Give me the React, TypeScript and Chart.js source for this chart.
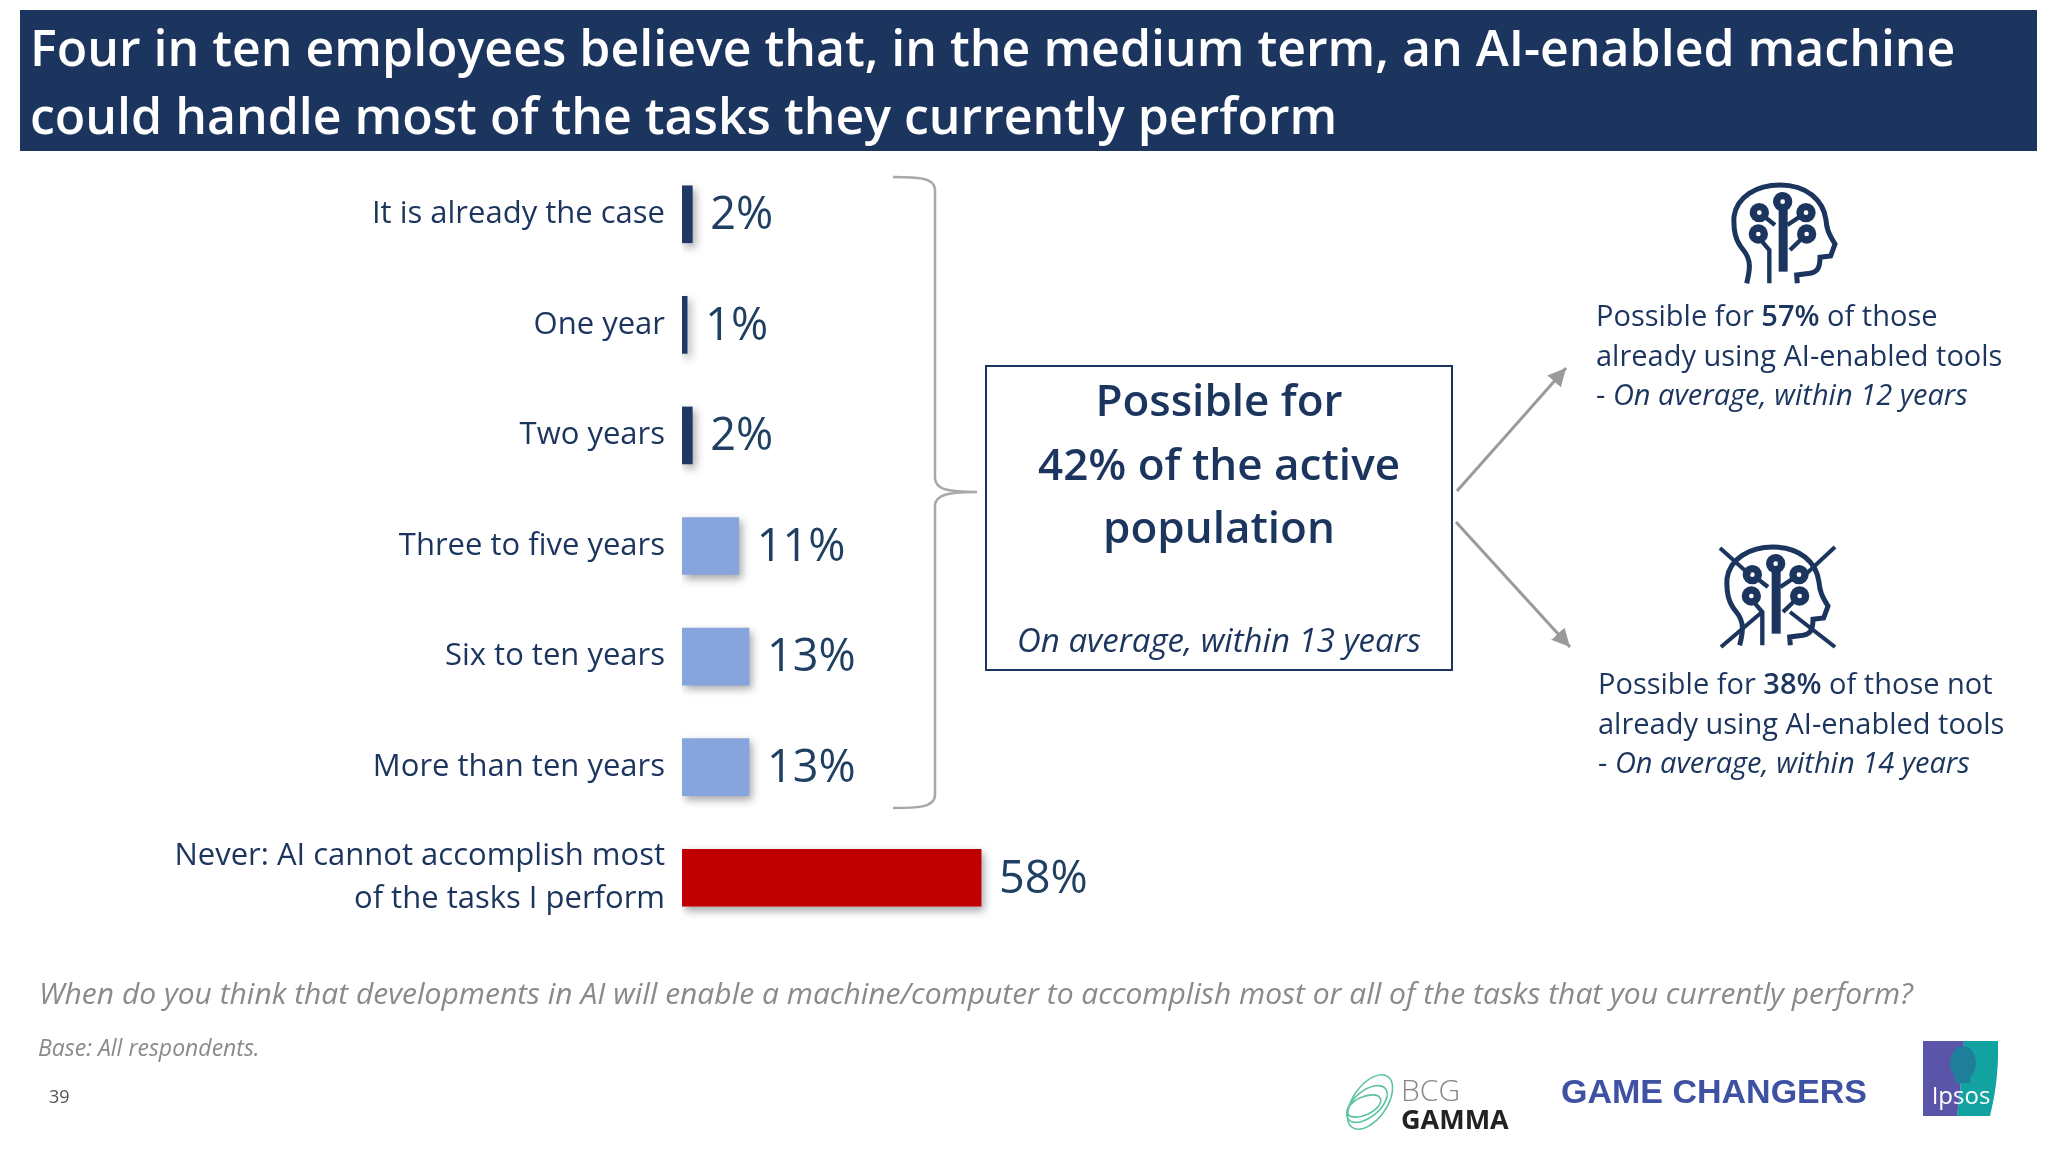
import { useEffect, useRef } from 'react';
import { Chart, registerables } from 'chart.js';

Chart.register(...registerables);

const categories = [
    'It is already the case',
    'One year',
    'Two years',
    'Three to five years',
    'Six to ten years',
    'More than ten years',
    ['Never: AI cannot accomplish most', 'of the tasks I perform'],
];
const shares = [2, 1, 2, 11, 13, 13, 58];
const barColors = ['#1f3864', '#1f3864', '#1f3864', '#86a5dd', '#86a5dd', '#86a5dd', '#c00000'];

const titleLines = [
    'Four in ten employees believe that, in the medium term, an AI-enabled machine',
    'could handle most of the tasks they currently perform',
];
const boxLines = ['Possible for', '42% of the active', 'population'];

const NAVY = '#1c355e';
const FONT = '"Open Sans", sans-serif';

const valueLabels = {
    id: 'valueLabels',
    afterDatasetsDraw(chart: Chart) {
        const { ctx } = chart;
        ctx.save();
        ctx.font = `45px ${FONT}`;
        ctx.fillStyle = '#1f3f63';
        ctx.textBaseline = 'middle';
        chart.getDatasetMeta(0).data.forEach((bar, i) => {
            ctx.fillText(`${shares[i]}%`, bar.x + 18, bar.y + 2);
        });
        ctx.restore();
    },
};

// soft drop shadow behind the bars
const barShadow = {
    id: 'barShadow',
    beforeDatasetsDraw(chart: Chart) {
        const { ctx } = chart;
        ctx.save();
        ctx.shadowColor = 'rgba(60,60,70,0.45)';
        ctx.shadowBlur = 8;
        ctx.shadowOffsetX = 3;
        ctx.shadowOffsetY = 4;
    },
    afterDatasetDraw(chart: Chart) {
        chart.ctx.restore();
    },
};

const Brain = ({ x, y }: { x: number; y: number }) => (
    <g transform={`translate(${x} ${y}) scale(0.3333)`} fill="none" stroke={NAVY} strokeWidth="15">
        <path d="M140 340 C150 300 155 270 130 240 C105 210 100 180 102 140 C110 80 170 45 240 45 C320 45 370 90 378 150 C380 175 385 190 405 222 L392 258 L360 262 C360 290 355 305 330 310 L290 315 L292 340" />
        <path d="M208 340 V240 L178 205 M262 165 L318 128 M225 165 L178 128 M270 240 L320 192" strokeWidth="13" />
        <rect x="236" y="100" width="27" height="205" fill={NAVY} stroke="none" />
        {[[248, 95], [178, 128], [318, 128], [175, 192], [320, 192]].map(([cx, cy]) => (
            <g key={`${cx}-${cy}`}>
                <circle cx={cx} cy={cy} r="29" fill={NAVY} stroke="none" />
                <circle cx={cx} cy={cy} r="7" fill="#fff" stroke="none" />
            </g>
        ))}
    </g>
);

const Overlay = () => (
    <svg width="2048" height="1152" style={{ position: 'absolute', left: 0, top: 0 }}>
        <defs>
            <marker id="head" markerWidth="7" markerHeight="7" refX="6" refY="3" orient="auto">
                <path d="M0 0 L6 3 L0 6 Z" fill="#9a9a9a" />
            </marker>
        </defs>
        {/* bracket */}
        <path
            d="M893 177 C915 177 935 177 935 190 V478 C935 490 950 492 977 492 C950 492 935 494 935 506 V795 C935 808 915 808 893 808"
            fill="none" stroke="#a8a8a8" strokeWidth="2.5"
        />
        {/* arrows */}
        <line x1="1457" y1="491" x2="1566" y2="368" stroke="#9a9a9a" strokeWidth="3" markerEnd="url(#head)" />
        <line x1="1456" y1="522" x2="1570" y2="647" stroke="#9a9a9a" strokeWidth="3" markerEnd="url(#head)" />

        <Brain x={1700} y={170} />
        <Brain x={1693} y={532} />
        <g stroke={NAVY} strokeWidth="4">
            <line x1="1720" y1="548" x2="1750" y2="575" />
            <line x1="1835" y1="547" x2="1806" y2="574" />
            <line x1="1721" y1="647" x2="1762" y2="612" />
            <line x1="1835" y1="647" x2="1790" y2="612" />
        </g>

        {/* BCG Gamma */}
        <g fill="none" stroke="#5cc3a0" strokeWidth="1.6">
            <ellipse cx="1370" cy="1102" rx="31" ry="17" transform="rotate(-55 1370 1102)" />
            <ellipse cx="1367" cy="1104" rx="24" ry="13" transform="rotate(-40 1367 1104)" />
            <ellipse cx="1364" cy="1106" rx="18" ry="9" transform="rotate(-25 1364 1106)" />
        </g>
        <text x="1401" y="1101" fontFamily={FONT} fontWeight="300" fontSize="30" fill="#888">BCG</text>
        <text x="1401" y="1129" fontFamily={FONT} fontWeight="700" fontSize="27" fill="#222">GAMMA</text>

        <text x="1561" y="1103" fontFamily="'Liberation Sans', sans-serif" fontWeight="700" fontSize="34" fill="#3f51a3">GAME CHANGERS</text>

        {/* Ipsos */}
        <path d="M1923 1041 H1964 C1962 1075 1960 1095 1957 1116 H1923 Z" fill="#5a55a8" />
        <path d="M1964 1041 H1998 C1999 1075 1994 1100 1990 1116 H1957 C1960 1095 1962 1075 1964 1041 Z" fill="#12a3a0" />
        <ellipse cx="1963" cy="1063" rx="13" ry="17" fill="#1f7f9a" />
        <rect x="1955" y="1075" width="15" height="8" fill="#1f7f9a" />
        <text x="1961" y="1104" textAnchor="middle" fontFamily={FONT} fontSize="24" fill="#fff">Ipsos</text>
    </svg>
);

const App = () => {
    const chartRef = useRef<HTMLCanvasElement | null>(null);
    const chartInstance = useRef<Chart<'bar'> | null>(null);

    useEffect(() => {
        if (chartRef.current) {
            chartInstance.current = new Chart(chartRef.current, {
                type: 'bar',
                data: {
                    labels: categories,
                    datasets: [
                        {
                            data: shares,
                            backgroundColor: barColors,
                            barThickness: 57,
                        },
                    ],
                },
                options: {
                    indexAxis: 'y',
                    responsive: false,
                    animation: false,
                    devicePixelRatio: 1,
                    layout: { padding: { top: 159, bottom: 219, right: 1005, left: 0 } },
                    plugins: { legend: { display: false }, tooltip: { enabled: false } },
                    scales: {
                        x: { display: false, min: 0, max: 70 },
                        y: {
                            grid: { display: false, drawTicks: false },
                            border: { display: false },
                            afterFit: (scale) => {
                                scale.width = 682;
                            },
                            ticks: {
                                color: NAVY,
                                padding: 17,
                                autoSkip: false,
                                font: { family: FONT, size: 31, lineHeight: 1.39 },
                            },
                        },
                    },
                },
                plugins: [barShadow, valueLabels],
            });
        }
        return () => {
            if (chartInstance.current) {
                chartInstance.current.destroy();
            }
        };
    }, []);

    return (
        <div style={{ position: 'fixed', left: 0, top: 0, width: 2048, height: 1152, background: '#fff', fontFamily: FONT, overflow: 'hidden' }}>
            <canvas ref={chartRef} width={2048} height={1152} style={{ position: 'absolute', left: 0, top: 0 }} />
            <Overlay />

            <div style={{ position: 'absolute', left: 20, top: 10, width: 2017, height: 141, background: NAVY, color: '#fff', fontSize: 50, fontWeight: 600, lineHeight: '68px', paddingLeft: 10, boxSizing: 'border-box', paddingTop: 3, whiteSpace: 'nowrap' }}>
                {titleLines.map((line) => <div key={line}>{line}</div>)}
            </div>

            <div style={{ position: 'absolute', left: 985, top: 365, width: 468, height: 306, border: `2px solid ${NAVY}`, boxSizing: 'border-box', textAlign: 'center', color: NAVY }}>
                <div style={{ fontSize: 44, fontWeight: 600, lineHeight: '63.5px', marginTop: 1 }}>
                    {boxLines.map((line) => <div key={line}>{line}</div>)}
                </div>
                <div style={{ position: 'absolute', left: 0, right: 0, top: 250, fontSize: 33, fontStyle: 'italic', whiteSpace: 'nowrap' }}>On average, within 13 years</div>
            </div>

            <div style={{ position: 'absolute', left: 1596, top: 295, fontSize: 29, lineHeight: '39.5px', color: NAVY, whiteSpace: 'nowrap' }}>
                <div>Possible for <span style={{ fontWeight: 600 }}>57%</span> of those</div>
                <div>already using AI-enabled tools</div>
                <div>- <i>On average, within 12 years</i></div>
            </div>
            <div style={{ position: 'absolute', left: 1598, top: 663, fontSize: 29, lineHeight: '39.5px', color: NAVY, whiteSpace: 'nowrap' }}>
                <div>Possible for <span style={{ fontWeight: 600 }}>38%</span> of those not</div>
                <div>already using AI-enabled tools</div>
                <div>- <i>On average, within 14 years</i></div>
            </div>

            <div style={{ position: 'absolute', left: 39, top: 972, fontSize: 30, fontStyle: 'italic', color: '#8a8a8a', whiteSpace: 'nowrap' }}>
                When do you think that developments in AI will enable a machine/computer to accomplish most or all of the tasks that you currently perform?
            </div>
            <div style={{ position: 'absolute', left: 38, top: 1031, fontSize: 23, fontStyle: 'italic', color: '#8a8a8a', whiteSpace: 'nowrap' }}>Base: All respondents.</div>
            <div style={{ position: 'absolute', left: 49, top: 1084, fontSize: 18, color: '#555' }}>39</div>
        </div>
    );
};

export default App;
